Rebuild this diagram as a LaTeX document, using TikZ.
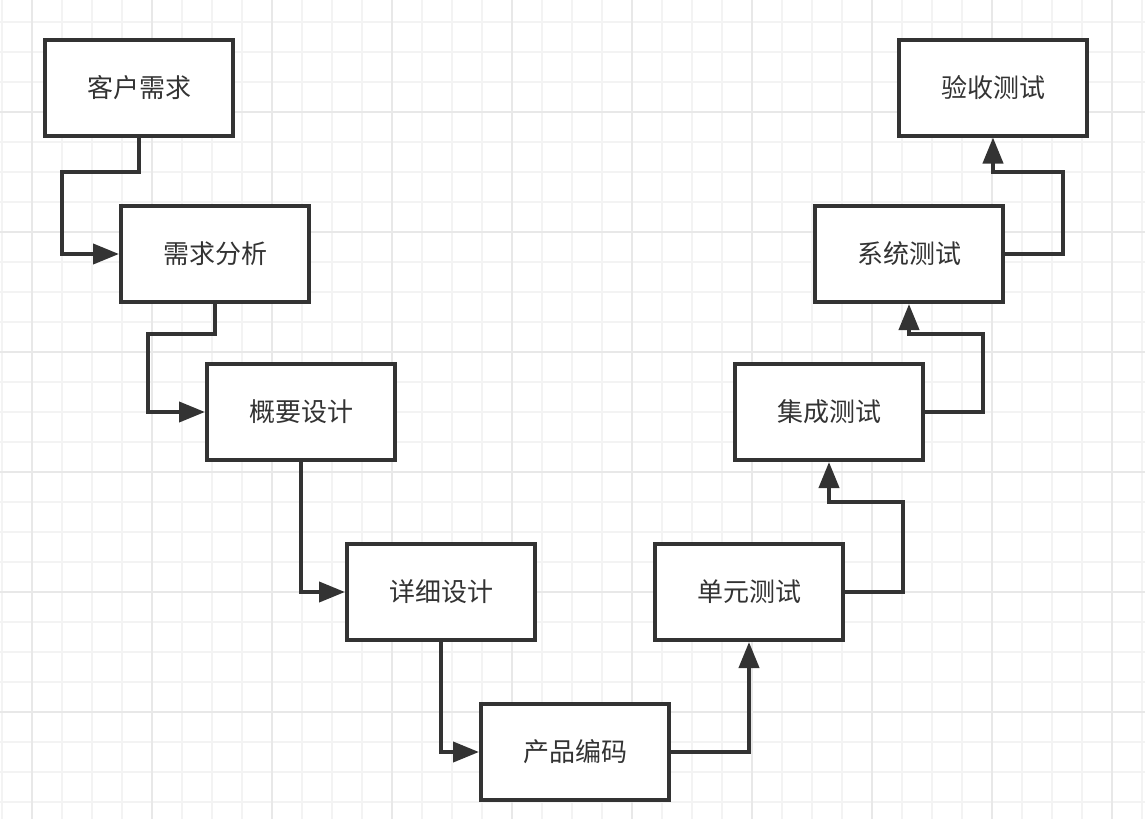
\documentclass[tikz,border=0pt]{standalone}
\usepackage{fontspec}
\newfontfamily\cjk{Noto Sans CJK SC}
\usetikzlibrary{arrows.meta}
\definecolor{ink}{HTML}{333333}
\definecolor{gridminor}{HTML}{F3F3F3}
\definecolor{gridmajor}{HTML}{E8E8E8}
\tikzset{
  box/.style={draw=ink, line width=4pt, fill=white, minimum width=188pt, minimum height=96pt,
    inner sep=0pt, font=\cjk\fontsize{26pt}{30pt}\selectfont, text=ink},
  arr/.style={draw=ink, line width=4pt, line join=miter, -{Triangle[length=26pt 0,width=20pt 0]}}
}
\begin{document}
\begin{tikzpicture}[x=1pt,y=-1pt]
\useasboundingbox (0,0) rectangle (1145,819);
\fill[white] (0,0) rectangle (1145,819);
% minor grid
\foreach \gx in {2,32,...,1142} \draw[gridminor, line width=1.2pt] (\gx,0) -- (\gx,819);
\foreach \gy in {22,52,...,812} \draw[gridminor, line width=1.2pt] (0,\gy) -- (1145,\gy);
% major grid
\foreach \gx in {32,152,...,1142} \draw[gridmajor, line width=1.4pt] (\gx,0) -- (\gx,819);
\foreach \gy in {112,232,...,812} \draw[gridmajor, line width=1.4pt] (0,\gy) -- (1145,\gy);

\node[box] (b1) at (139,87.5) {客户需求};
\node[box] (b2) at (215,254) {需求分析};
\node[box] (b3) at (301,412) {概要设计};
\node[box] (b4) at (441,592) {详细设计};
\node[box] (b5) at (575,752) {产品编码};
\node[box] (b6) at (749,592) {单元测试};
\node[box] (b7) at (829,412) {集成测试};
\node[box] (b8) at (909,254) {系统测试};
\node[box] (b9) at (993,87.5) {验收测试};

\draw[arr] (b1.south) -- (139,172) -- (62,172) -- (62,254) -- (b2.west);
\draw[arr] (b2.south) -- (215,334) -- (148,334) -- (148,412) -- (b3.west);
\draw[arr] (b3.south) -- (301,592) -- (b4.west);
\draw[arr] (b4.south) -- (441,752) -- (b5.west);
\draw[arr] (b5.east) -- (749,752) -- (b6.south);
\draw[arr] (b6.east) -- (903,592) -- (903,502) -- (829,502) -- (b7.south);
\draw[arr] (b7.east) -- (983,412) -- (983,334) -- (909,334) -- (b8.south);
\draw[arr] (b8.east) -- (1063,254) -- (1063,172) -- (993,172) -- (b9.south);
\end{tikzpicture}
\end{document}
